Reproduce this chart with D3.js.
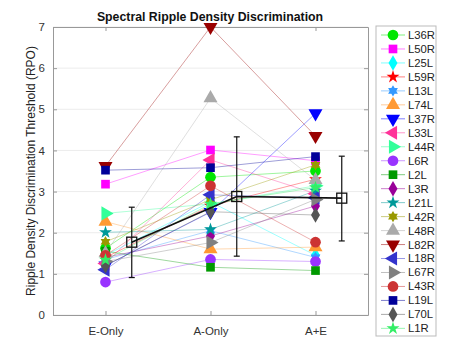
<!DOCTYPE html>
<html><head><meta charset="utf-8">
<script src="https://cdn.jsdelivr.net/npm/d3@7"></script>
<style>body{margin:0;background:#fff}svg{display:block;font-family:"Liberation Sans",Arial,sans-serif}</style>
</head><body><svg id="c" width="474" height="355"></svg>
<script>
const conditions = ["E-Only", "A-Only", "A+E"];
const subjects = ["L36R","L50R","L25L","L59R","L13L","L74L","L37R","L33L","L44R","L6R","L2L","L3R","L21L","L42R","L48R","L82R","L18R","L67R","L43R","L19L","L70L","L1R"];
const eOnly = [1.62,3.18,1.45,1.40,1.35,2.27,1.20,1.25,2.47,0.80,1.55,1.40,2.01,1.78,1.50,3.62,1.10,1.30,1.45,3.52,1.20,1.34];
const aOnly = [3.35,4.01,2.75,2.65,2.05,1.60,2.50,3.77,2.70,1.35,1.16,1.92,2.08,2.80,5.27,7.00,2.92,1.76,3.14,3.58,2.51,2.70];
const aPlusE = [3.50,3.75,1.45,3.30,1.40,1.65,4.90,2.95,3.14,1.30,1.08,2.65,3.02,3.65,3.28,4.35,2.85,2.81,1.77,3.85,2.43,3.10];
const colors = ["#00e600","#ff00ff","#00ffff","#ff0000","#3399ff","#ff9933","#0000ff","#ff3399","#33ff99","#9933ff","#009900","#990099","#009999","#999900","#aaaaaa","#990000","#3333cc","#808080","#cc3333","#000099","#555555","#33ee66"];
const shapes = ["circle","square","diamond","star","hexagram","up","down","left","right","circle","square","diamond","star","hexagram","up","down","left","right","circle","square","diamond","star"];
const meanVals = [1.77, 2.88, 2.84];
const errLow = [0.91, 1.43, 1.80];
const errHigh = [2.62, 4.33, 3.86];
const yTicks = [0,1,2,3,4,5,6,7];

const svg = d3.select("#c");
const L = 53, R = 368, T = 27, B = 315;
const x = d3.scaleLinear().domain([0.5, 3.5]).range([L, R]);
const y = d3.scaleLinear().domain([0, 7]).range([B, T]);

const hexagram = {draw(ctx, size){
  const r = Math.sqrt(size/2.2), ri = r*0.58;
  for(let i=0;i<12;i++){const a=i*Math.PI/6 - Math.PI/2; const rr = i%2?ri:r;
    i?ctx.lineTo(rr*Math.cos(a), rr*Math.sin(a)):ctx.moveTo(rr*Math.cos(a), rr*Math.sin(a));}
  ctx.closePath();
}};
function symPath(s, size){
  const map = {circle:d3.symbolCircle, square:d3.symbolSquare, diamond:d3.symbolDiamond, star:d3.symbolStar, hexagram:hexagram,
    up:d3.symbolTriangle, down:d3.symbolTriangle, left:d3.symbolTriangle, right:d3.symbolTriangle};
  return d3.symbol().type(map[s]).size(size)();
}
const rot = {down:180,left:-90,right:90};
const sizeOf = s => ({circle:90, square:75, diamond:70, star:52, hexagram:70, up:85, down:85, left:85, right:85})[s];

// grid
svg.append("g").selectAll("line").data(yTicks).join("line")
  .attr("x1", L).attr("x2", R).attr("y1", d=>y(d)).attr("y2", d=>y(d))
  .attr("stroke", "#ececec").attr("stroke-width", 1);

// axes
const ax = svg.append("g").attr("transform", `translate(0,${B})`)
  .call(d3.axisBottom(x).tickValues([1,2,3]).tickFormat((d,i)=>conditions[i]).tickSizeInner(-4).tickSizeOuter(0).tickPadding(12));
const ay = svg.append("g").attr("transform", `translate(${L},0)`)
  .call(d3.axisLeft(y).tickValues(yTicks).tickFormat(d3.format("d")).tickSizeInner(-4).tickSizeOuter(0).tickPadding(8));
const axT = svg.append("g").attr("transform", `translate(0,${T})`)
  .call(d3.axisTop(x).tickValues([1,2,3]).tickFormat("").tickSizeInner(-4).tickSizeOuter(0));
const axR = svg.append("g").attr("transform", `translate(${R},0)`)
  .call(d3.axisRight(y).tickValues(yTicks).tickFormat("").tickSizeInner(-4).tickSizeOuter(0));
[ax, ay, axT, axR].forEach(g => {
  g.select(".domain").attr("stroke", "#999");
  g.selectAll(".tick line").attr("stroke", "#999");
  g.selectAll("text").attr("fill", "#333").attr("font-size", 11.5).attr("font-family", "Liberation Sans, Arial, sans-serif");
});

// subject lines
const rows = subjects.map((s,i)=>({s, c:colors[i], sh:shapes[i], v:[eOnly[i], aOnly[i], aPlusE[i]]}));
const line = d3.line().x((d,i)=>x(i+1)).y(d=>y(d));
svg.append("g").selectAll("path").data(rows).join("path")
  .attr("d", d=>line(d.v)).attr("fill","none").attr("stroke", d=>d.c).attr("stroke-opacity", 0.38).attr("stroke-width", 1);

// markers
rows.forEach(r => {
  svg.append("g").selectAll("path").data(r.v).join("path")
    .attr("d", symPath(r.sh, sizeOf(r.sh)))
    .attr("transform", (d,i)=>`translate(${x(i+1)},${y(d)}) rotate(${rot[r.sh]||0})`)
    .attr("fill", r.c).attr("stroke", "none");
});

// means and error bars
const mx = i => x(i + 1.25);
const mg = svg.append("g");
mg.selectAll("line.e").data(meanVals).join("line").attr("class","e")
  .attr("x1",(d,i)=>mx(i)).attr("x2",(d,i)=>mx(i)).attr("y1",(d,i)=>y(errLow[i])).attr("y2",(d,i)=>y(errHigh[i]))
  .attr("stroke","#111").attr("stroke-width",1.2);
[errLow, errHigh].forEach(arr => {
  mg.selectAll(null).data(arr).join("line")
    .attr("x1",(d,i)=>mx(i)-3).attr("x2",(d,i)=>mx(i)+3).attr("y1",d=>y(d)).attr("y2",d=>y(d))
    .attr("stroke","#111").attr("stroke-width",1.2);
});
mg.append("path").attr("d", d3.line().x((d,i)=>mx(i)).y(d=>y(d))(meanVals))
  .attr("fill","none").attr("stroke","#111").attr("stroke-width",1.6);
mg.selectAll("rect").data(meanVals).join("rect")
  .attr("x",(d,i)=>mx(i)-5).attr("y",d=>y(d)-5).attr("width",10).attr("height",10)
  .attr("fill","#fff").attr("fill-opacity",0).attr("stroke","#111").attr("stroke-width",1.3);

// title & y label
svg.append("text").attr("x", 210).attr("y", 21).attr("text-anchor","middle")
  .attr("font-weight","bold").attr("font-size", 12.3).attr("fill","#111").text("Spectral Ripple Density Discrimination");
svg.append("text").attr("transform", `translate(35,${(T+B)/2}) rotate(-90)`).attr("text-anchor","middle")
  .attr("font-size", 12).attr("fill","#222").text("Ripple Density Discrimination Threshold (RPO)");

// legend
const lg = svg.append("g");
lg.append("rect").attr("x", 376).attr("y", 26).attr("width", 60).attr("height", 310)
  .attr("fill","#fff").attr("stroke","#bbb").attr("stroke-width",1);
const ly = i => 35 + i*13.97;
rows.forEach((r,i) => {
  lg.append("line").attr("x1",381).attr("x2",405).attr("y1",ly(i)).attr("y2",ly(i)).attr("stroke", r.c).attr("stroke-opacity",0.5);
  lg.append("path").attr("d", symPath(r.sh, sizeOf(r.sh))).attr("transform",`translate(393,${ly(i)}) rotate(${rot[r.sh]||0})`).attr("fill", r.c);
  lg.append("text").attr("x",408).attr("y",ly(i)).attr("dy","0.35em").attr("font-size",11.3).attr("fill","#222").text(r.s);
});
</script></body></html>
